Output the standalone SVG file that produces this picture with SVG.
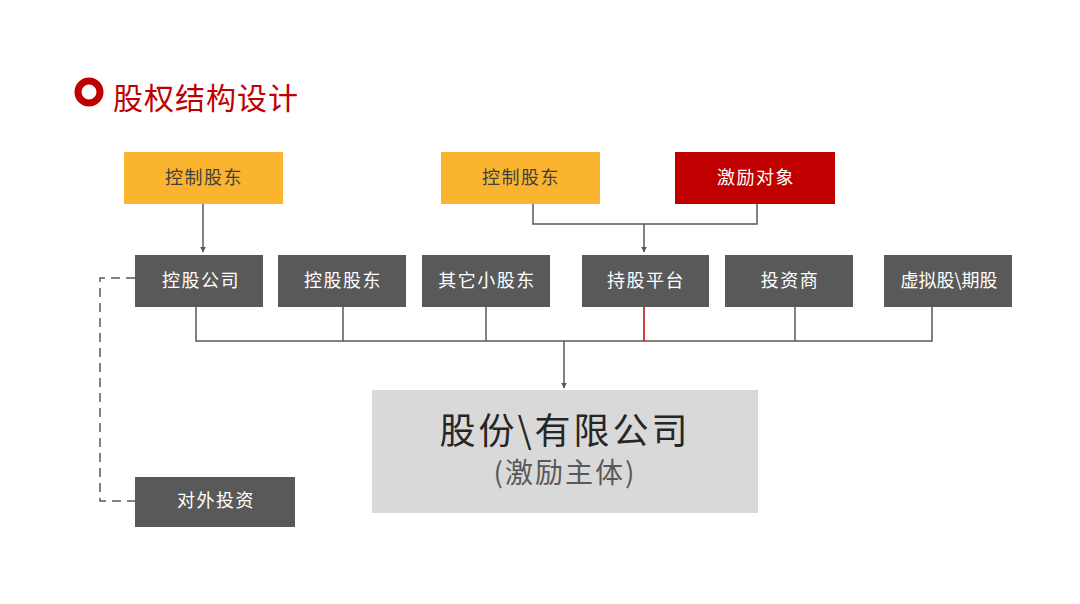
<svg xmlns="http://www.w3.org/2000/svg" width="1080" height="604" viewBox="0 0 1080 604">
<defs>
<style>
text{font-family:"Noto Sans CJK SC","Liberation Sans",sans-serif;text-anchor:middle;dominant-baseline:central}
.yel{fill:#fbb430}
.red{fill:#c00000}
.dk{fill:#595959}
.lt{fill:#d9d9d9}
.t17{font-size:18px;letter-spacing:1.5px}
.w{fill:#ffffff}
.g{fill:#404040}
.ln{stroke:#595959;stroke-width:1.5;fill:none}
</style>
<marker id="ah" viewBox="0 0 10 10" refX="9" refY="5" markerWidth="6" markerHeight="6" orient="auto" markerUnits="userSpaceOnUse">
<path d="M0,0 L10,5 L0,10 z" fill="#595959"/>
</marker>
</defs>
<rect width="1080" height="604" fill="#ffffff"/>
<g id="title">
<circle cx="89" cy="92" r="11" fill="none" stroke="#c00000" stroke-width="7"/>
<text x="113" y="96" style="text-anchor:start;font-size:30px" fill="#c00000" letter-spacing="1">股权结构设计</text>
</g>
<g id="connectors">
<line class="ln" x1="203" y1="204" x2="203" y2="252" marker-end="url(#ah)"/>
<polyline class="ln" points="533,204 533,224 757,224 757,204"/>
<line class="ln" x1="644" y1="224" x2="644" y2="252" marker-end="url(#ah)"/>
<polyline class="ln" points="196,307 196,341 932,341 932,307"/>
<line class="ln" x1="343" y1="307" x2="343" y2="341"/>
<line class="ln" x1="486" y1="307" x2="486" y2="341"/>
<line class="ln" x1="795" y1="307" x2="795" y2="341"/>
<line x1="644" y1="307" x2="644" y2="341" stroke="#c00000" stroke-width="1.5"/>
<line class="ln" x1="564" y1="341" x2="564" y2="388" marker-end="url(#ah)"/>
<polyline points="135,278 100,278 100,501 135,501" fill="none" stroke="#595959" stroke-width="1.5" stroke-dasharray="9,6"/>
</g>
<g id="n-ctrl1"><rect class="yel" x="124" y="152" width="159" height="52"/><text class="t17 g" x="204" y="176">控制股东</text></g>
<g id="n-ctrl2"><rect class="yel" x="441" y="152" width="159" height="52"/><text class="t17 g" x="521" y="176">控制股东</text></g>
<g id="n-incent"><rect class="red" x="675" y="152" width="160" height="52"/><text class="t17 w" x="756" y="176">激励对象</text></g>
<g id="n-holdco"><rect class="dk" x="135" y="255" width="128" height="52"/><text class="t17 w" x="201" y="279" letter-spacing="3">控股公司</text></g>
<g id="n-holdsh"><rect class="dk" x="278" y="255" width="128" height="52"/><text class="t17 w" x="343" y="279">控股股东</text></g>
<g id="n-small"><rect class="dk" x="422" y="255" width="128" height="52"/><text class="t17 w" x="487" y="279">其它小股东</text></g>
<g id="n-platform"><rect class="dk" x="582" y="255" width="127" height="52"/><text class="t17 w" x="646" y="279">持股平台</text></g>
<g id="n-investor"><rect class="dk" x="725" y="255" width="128" height="52"/><text class="t17 w" x="790" y="279">投资商</text></g>
<g id="n-virtual"><rect class="dk" x="884" y="255" width="128" height="52"/><text class="t17 w" x="949" y="279" style="letter-spacing:0">虚拟股\期股</text></g>
<g id="n-company"><rect class="lt" x="372" y="390" width="386" height="123"/>
<text x="565" y="428" style="font-size:36px" fill="#262626" letter-spacing="3">股份\有限公司</text>
<text x="565" y="471" style="font-size:28px" fill="#595959" letter-spacing="2">(激励主体)</text></g>
<g id="n-external"><rect class="dk" x="135" y="477" width="160" height="50"/><text class="t17 w" x="216" y="499">对外投资</text></g>
</svg>
